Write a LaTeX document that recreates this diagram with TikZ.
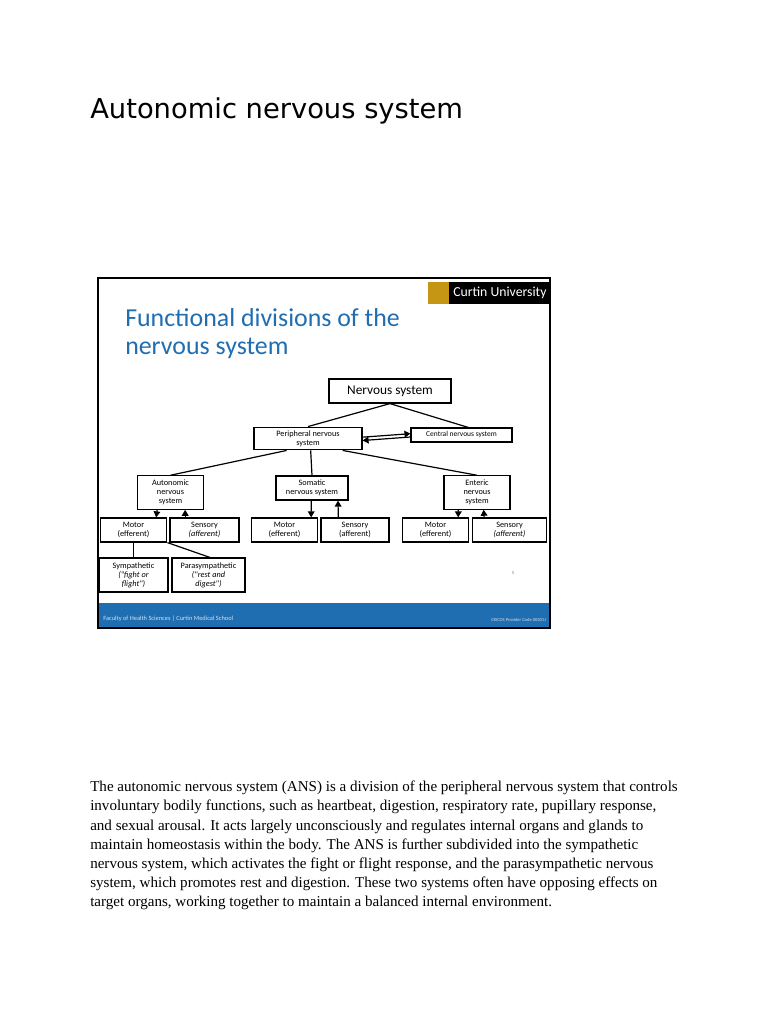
\documentclass[tikz,border=0pt]{standalone}
\usepackage{fontspec}
\setmainfont{Liberation Serif}
\newfontfamily\titlefont{DejaVu Sans}
\newfontfamily\slidefont{Carlito}
\usetikzlibrary{arrows.meta,positioning}
\definecolor{slideblue}{RGB}{32,110,178}
\definecolor{curtingold}{RGB}{196,150,20}
\tikzset{
box/.style={draw, line width=0.9pt, fill=white, align=center, inner sep=0pt, font=\slidefont\fontsize{6.2}{6.8}\selectfont},
link/.style={line width=0.9pt},
tip/.style={line width=0.9pt, -{Triangle[length=4.5pt,width=5pt]}}
}
\begin{document}
\begin{tikzpicture}[x=0.75pt,y=-0.75pt]
\useasboundingbox (0,0) rectangle (768,1024);
\fill[white] (0,0) rectangle (768,1024);
\node[anchor=base west, inner sep=0pt, font=\titlefont\fontsize{20.5}{22}\selectfont] (title) at (90,118) {Autonomic nervous system};

% slide frame
\draw[line width=0.9pt, fill=white] (98,278) rectangle (550,628);
\fill[slideblue] (99,603) rectangle (549,627);
\fill[black] (428,282) rectangle (549,304);
\fill[curtingold] (428,282) rectangle (449,304);
\node[anchor=west, inner sep=0pt, text=white, font=\slidefont\fontsize{10.3}{11}\selectfont] (brand) at (453,293) {Curtin University};
\node[anchor=north west, inner sep=0pt, align=left, text=slideblue, font=\slidefont\fontsize{19.4}{21.5}\selectfont] (heading) at (125,308) {Functional divisions of the\\nervous system};
\node[anchor=west, inner sep=0pt, text=white!80!slideblue, font=\slidefont\fontsize{4.8}{5}\selectfont] (faculty) at (103,619) {Faculty of Health Sciences | Curtin Medical School};
\node[anchor=east, inner sep=0pt, text=white!80!slideblue, font=\slidefont\fontsize{3.4}{4}\selectfont] (cricos) at (546,620) {CRICOS Provider Code 00301J};
\node[inner sep=0pt, text=gray, font=\slidefont\fontsize{3.5}{4}\selectfont] (page) at (513,573) {5};

% boxes
\node[box, minimum width=91.5pt, minimum height=18pt, font=\slidefont\fontsize{10}{11}\selectfont] (ns) at (390,391) {Nervous system};
\node[box, minimum width=81pt, minimum height=17pt] (pns) at (308,438.5) {Peripheral nervous\\system};
\node[box, minimum width=75.7pt, minimum height=10.5pt, font=\slidefont\fontsize{5.6}{6}\selectfont] (cns) at (461.5,435) {Central nervous system};
\node[box, minimum width=50pt, minimum height=25pt] (ans) at (170.5,492.5) {Autonomic\\nervous\\system};
\node[box, minimum width=54pt, minimum height=18pt] (sns) at (312,488) {Somatic\\nervous system};
\node[box, minimum width=49.5pt, minimum height=25pt] (ens) at (477,492.5) {Enteric\\nervous\\system};
\node[box, minimum width=50pt, minimum height=18pt] (amotor) at (133.5,530) {Motor\\(efferent)};
\node[box, minimum width=51.7pt, minimum height=18pt] (asens) at (204.5,530) {Sensory\\\textit{(afferent)}};
\node[box, minimum width=50pt, minimum height=18pt] (smotor) at (284.5,530) {Motor\\(efferent)};
\node[box, minimum width=51pt, minimum height=18pt] (ssens) at (355,530) {Sensory\\(afferent)};
\node[box, minimum width=50pt, minimum height=18pt] (emotor) at (435.5,530) {Motor\\(efferent)};
\node[box, minimum width=56pt, minimum height=18pt] (esens) at (509.5,530) {Sensory\\\textit{(afferent)}};
\node[box, minimum width=51.7pt, minimum height=25.5pt] (symp) at (133.5,575) {Sympathetic\\\textit{("fight or}\\\textit{flight")}};
\node[box, minimum width=54.7pt, minimum height=25.5pt] (para) at (208.5,575) {Parasympathetic\\\textit{("rest and}\\\textit{digest")}};

% connectors
\draw[link] (ns.south) -- (pns.north);
\draw[link] (ns.south) -- ([xshift=5pt]cns.north);
\draw[tip] ([yshift=1pt]pns.east) -- ([yshift=1pt]cns.west);
\draw[tip] ([yshift=-1.5pt]cns.west) -- ([yshift=-1.5pt]pns.east);
\draw[link] ([xshift=-16pt]pns.south) -- (ans.north);
\draw[link] ([xshift=2pt]pns.south) -- (sns.north);
\draw[link] ([xshift=26pt]pns.south) -- (ens.north);
\draw[tip] ([xshift=-10pt]ans.south) -- ([xshift=17pt]amotor.north);
\draw[tip] ([xshift=-14.5pt]asens.north) -- ([xshift=11pt]ans.south);
\draw[tip] ([xshift=-0.5pt]sns.south) -- ([xshift=20pt]smotor.north);
\draw[tip] ([xshift=-12.5pt]ssens.north) -- ([xshift=19.5pt]sns.south);
\draw[tip] ([xshift=-14pt]ens.south) -- ([xshift=17pt]emotor.north);
\draw[tip] ([xshift=-19pt]esens.north) -- ([xshift=5pt]ens.south);
\draw[link] (amotor.south) -- (symp.north);
\draw[link] (amotor.south east) -- ([xshift=1pt]para.north);

% body text
\node[anchor=north west, inner sep=0pt, align=left, font=\fontsize{11.3}{14.3}\selectfont] (body) at (90,781) {The autonomic nervous system (ANS) is a division of the peripheral nervous system that controls\\involuntary bodily functions, such as heartbeat, digestion, respiratory rate, pupillary response,\\and sexual arousal. It acts largely unconsciously and regulates internal organs and glands to\\maintain homeostasis within the body. The ANS is further subdivided into the sympathetic\\nervous system, which activates the fight or flight response, and the parasympathetic nervous\\system, which promotes rest and digestion. These two systems often have opposing effects on\\target organs, working together to maintain a balanced internal environment.};
\end{tikzpicture}
\end{document}
